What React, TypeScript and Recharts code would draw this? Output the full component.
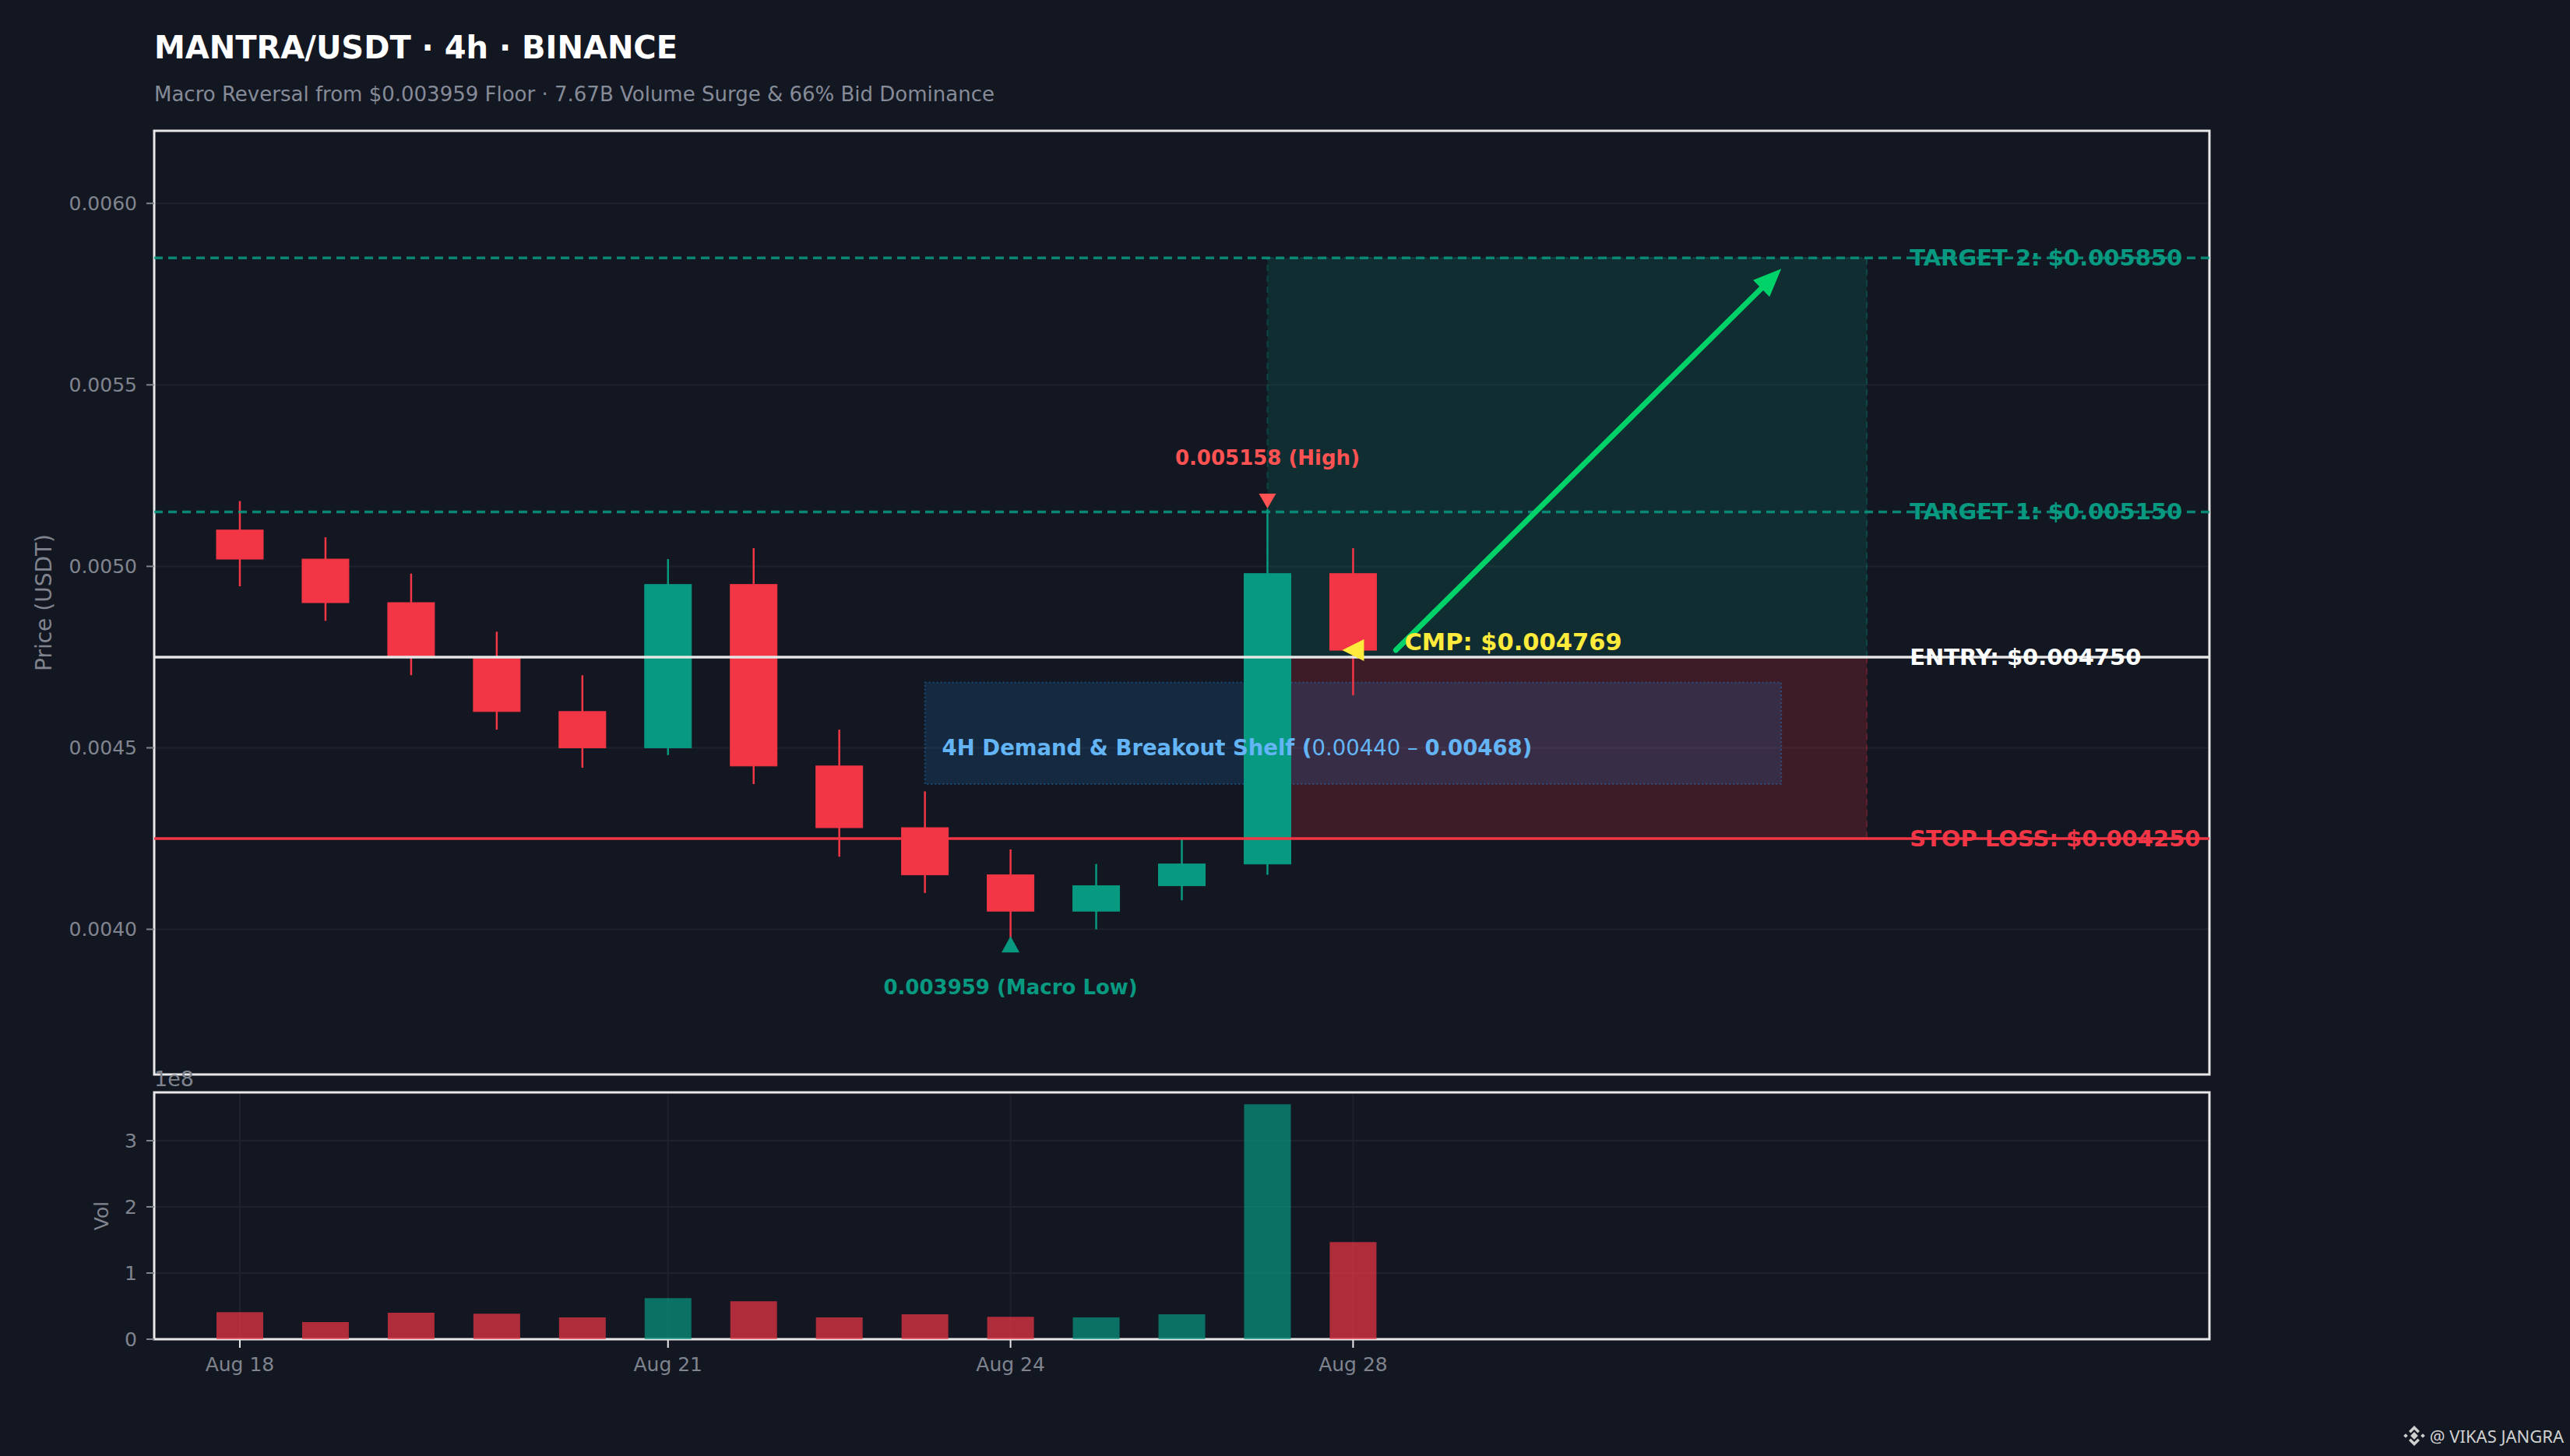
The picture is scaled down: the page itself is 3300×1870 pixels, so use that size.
import React from 'react';
import {
  ComposedChart,
  Bar,
  Cell,
  XAxis,
  YAxis,
  CartesianGrid,
  ReferenceLine,
  ReferenceArea,
  ReferenceDot,
  Label,
} from 'recharts';

// 4h candles, x = candle index
const candleIdx = [0, 1, 2, 3, 4, 5, 6, 7, 8, 9, 10, 11, 12, 13];
const opens = [0.0051, 0.00502, 0.0049, 0.00475, 0.0046, 0.0045, 0.00495, 0.00445, 0.00428, 0.00415, 0.00405, 0.00412, 0.00418, 0.00498];
const closes = [0.00502, 0.0049, 0.00475, 0.0046, 0.0045, 0.00495, 0.00445, 0.00428, 0.00415, 0.00405, 0.00412, 0.00418, 0.00498, 0.004769];
const highs = [0.00518, 0.00508, 0.00498, 0.00482, 0.0047, 0.00502, 0.00505, 0.00455, 0.00438, 0.00422, 0.00418, 0.00425, 0.005158, 0.00505];
const lows = [0.004945, 0.00485, 0.0047, 0.00455, 0.004445, 0.00448, 0.0044, 0.0042, 0.0041, 0.003959, 0.004, 0.00408, 0.00415, 0.004645];
const volumes = [0.41e8, 0.26e8, 0.4e8, 0.385e8, 0.33e8, 0.62e8, 0.575e8, 0.33e8, 0.377e8, 0.338e8, 0.33e8, 0.377e8, 3.55e8, 1.467e8];

const dateTicks = [0, 5, 9, 13];
const dateLabels = ['Aug 18', 'Aug 21', 'Aug 24', 'Aug 28'];
const priceTicks = [0.004, 0.0045, 0.005, 0.0055, 0.006];
const volTicks = [0, 1e8, 2e8, 3e8];

const TARGET2 = 0.00585;
const TARGET1 = 0.00515;
const ENTRY = 0.00475;
const STOP = 0.00425;
const CMP = 0.004769;
const HIGH = 0.005158;
const LOW = 0.003959;
const demandZone = [0.0044, 0.00468];

const BG = '#131722';
const UP = '#089981';
const DOWN = '#f23645';
const GRID = '#1e222d';
const TXT = '#80848f';
const SPINE = '#e8e8e8';
const FONT = "'DejaVu Sans', sans-serif";

const candles = candleIdx.map((t, i) => ({
  t,
  open: opens[i],
  close: closes[i],
  high: highs[i],
  low: lows[i],
  body: [Math.min(opens[i], closes[i]), Math.max(opens[i], closes[i])],
  vol: volumes[i],
  up: closes[i] >= opens[i],
}));

const Candle = (props: any) => {
  const { x, y, width, height, payload } = props;
  const [lo, hi] = payload.body;
  const k = height / (hi - lo);
  const cx = x + width / 2;
  const yHigh = y - (payload.high - hi) * k;
  const yLow = y + height + (lo - payload.low) * k;
  const col = payload.up ? UP : DOWN;
  return (
    <g>
      <line x1={cx} x2={cx} y1={yHigh} y2={yLow} stroke={col} strokeWidth={2.5} />
      <rect x={x} y={y} width={width} height={height} fill={col} stroke={col} strokeWidth={1} />
    </g>
  );
};

const Arrow = (p: any) => {
  const { x1, y1, x2, y2 } = p;
  const a = Math.atan2(y2 - y1, x2 - x1);
  const len = 36;
  const half = 15;
  const bx = x2 - len * Math.cos(a);
  const by = y2 - len * Math.sin(a);
  const nx = -Math.sin(a);
  const ny = Math.cos(a);
  return (
    <g>
      <line x1={x1} y1={y1} x2={bx + 6 * Math.cos(a)} y2={by + 6 * Math.sin(a)} stroke="#00d26a" strokeWidth={7} strokeLinecap="round" />
      <polygon points={`${x2},${y2} ${bx + half * nx},${by + half * ny} ${bx - half * nx},${by - half * ny}`} fill="#00d26a" />
    </g>
  );
};

const tri = (dir: 'up' | 'down' | 'left', color: string, w: number, h: number) => (p: any) => {
  const { cx, cy } = p;
  let pts = '';
  if (dir === 'up') pts = `${cx},${cy - h / 2} ${cx - w / 2},${cy + h / 2} ${cx + w / 2},${cy + h / 2}`;
  if (dir === 'down') pts = `${cx},${cy + h / 2} ${cx - w / 2},${cy - h / 2} ${cx + w / 2},${cy - h / 2}`;
  if (dir === 'left') pts = `${cx - w / 2},${cy} ${cx + w / 2},${cy - h / 2} ${cx + w / 2},${cy + h / 2}`;
  return <polygon points={pts} fill={color} />;
};

const textAt = (txt: string, color: string, size: number, anchor: 'start' | 'middle', baseline: string = 'central') => (p: any) => (
  <text x={p.cx} y={p.cy} fill={color} fontSize={size} fontWeight="bold" fontFamily={FONT} textAnchor={anchor} dominantBaseline={baseline}>
    {txt}
  </text>
);

const demandText = (p: any) => (
  <text x={p.cx} y={p.cy} fill="#64b5f6" fontSize={27.5} fontFamily={FONT} dominantBaseline="central">
    <tspan fontWeight="bold">4H Demand &amp; Breakout Shelf (</tspan>
    <tspan>0.00440 – </tspan>
    <tspan fontWeight="bold">0.00468)</tspan>
  </text>
);

const priceLabel = (props: any) => {
  const vb = props.viewBox;
  const cx = vb.x + 56;
  const cy = vb.y + vb.height / 2;
  return (
    <text x={cx} y={cy} transform={`rotate(-90 ${cx} ${cy})`} textAnchor="middle" dominantBaseline="central" fill={TXT} fontSize={28} fontFamily={FONT}>
      Price (USDT)
    </text>
  );
};

const volLabel = (props: any) => {
  const vb = props.viewBox;
  const cx = vb.x + 130;
  const cy = vb.y + vb.height / 2;
  return (
    <g>
      <text x={cx} y={cy} transform={`rotate(-90 ${cx} ${cy})`} textAnchor="middle" dominantBaseline="central" fill={TXT} fontSize={25} fontFamily={FONT}>
        Vol
      </text>
      <text x={vb.x + vb.width} y={vb.y - 8} fill={TXT} fontSize={27} fontFamily={FONT}>
        1e8
      </text>
    </g>
  );
};

const tickStyle = { fill: TXT, fontSize: 25, fontFamily: FONT };

export default function App() {
  return (
    <div style={{ position: 'absolute', left: 0, top: 0, width: 3300, height: 1870, background: BG, overflow: 'hidden', fontFamily: FONT }}>
      <div style={{ position: 'absolute', left: 198, top: 41, fontSize: 40, lineHeight: '40px', fontWeight: 'bold', color: '#ffffff' }}>
        MANTRA/USDT · 4h · BINANCE
      </div>
      <div style={{ position: 'absolute', left: 198, top: 108, fontSize: 26, lineHeight: '26px', color: '#868b98' }}>
        Macro Reversal from $0.003959 Floor · 7.67B Volume Surge &amp; 66% Bid Dominance
      </div>

      <div style={{ position: 'absolute', left: 0, top: 0 }}>
        <ComposedChart width={3300} height={1400} data={candles} margin={{ top: 168, right: 463, bottom: 20, left: 0 }}>
          <CartesianGrid stroke={GRID} strokeWidth={2} />
          <XAxis dataKey="t" type="number" domain={[-1, 23]} ticks={dateTicks} allowDataOverflow tick={false} tickLine={false} axisLine={false} height={0} />
          <YAxis
            type="number"
            domain={[0.0036, 0.0062]}
            allowDataOverflow
            ticks={priceTicks}
            width={198}
            tickFormatter={(v: number) => v.toFixed(4)}
            tick={tickStyle}
            tickLine={{ stroke: TXT, strokeWidth: 2 }}
            tickSize={10}
            tickMargin={12}
            axisLine={false}
            label={<Label content={priceLabel} />}
          />
          <ReferenceArea x1={12} x2={19} y1={ENTRY} y2={TARGET2} fill={UP} fillOpacity={0.17} stroke={UP} strokeOpacity={0.3} strokeDasharray="8 6" strokeWidth={2} />
          <ReferenceArea x1={12} x2={19} y1={STOP} y2={ENTRY} fill={DOWN} fillOpacity={0.19} stroke={DOWN} strokeOpacity={0.25} strokeDasharray="8 6" strokeWidth={2} />
          <ReferenceArea x1={8} x2={18} y1={demandZone[0]} y2={demandZone[1]} fill="#2196f3" fillOpacity={0.15} stroke="#2196f3" strokeOpacity={0.35} strokeDasharray="2 3" strokeWidth={2} />
          <Bar dataKey="body" barSize={60} shape={Candle} isAnimationActive={false} />
          <ReferenceLine y={TARGET2} stroke={UP} strokeOpacity={0.85} strokeWidth={3.5} strokeDasharray="11 7" />
          <ReferenceLine y={TARGET1} stroke={UP} strokeOpacity={0.85} strokeWidth={3.5} strokeDasharray="11 7" />
          <ReferenceLine y={ENTRY} stroke="#e6e6e6" strokeWidth={3.5} />
          <ReferenceLine y={STOP} stroke={DOWN} strokeWidth={3.5} />
          <ReferenceLine segment={[{ x: 13.5, y: CMP }, { x: 18, y: 0.00582 }]} shape={Arrow} />
          <ReferenceDot x={12} y={0.00518} shape={tri('down', '#ff5252', 22, 19)} />
          <ReferenceDot x={9} y={LOW} shape={tri('up', UP, 23, 21)} />
          <ReferenceDot x={13} y={CMP} shape={tri('left', '#ffeb3b', 28, 28)} />
          <ReferenceDot x={12} y={0.0053} shape={textAt(`${HIGH} (High)`, '#ff5252', 26, 'middle')} />
          <ReferenceDot x={9} y={0.00384} shape={textAt(`${LOW} (Macro Low)`, UP, 26, 'middle')} />
          <ReferenceDot x={13.6} y={CMP} shape={textAt(`CMP: $${CMP}`, '#ffeb3b', 30.5, 'start', 'auto')} />
          <ReferenceDot x={8.2} y={0.0045} shape={demandText} />
          <ReferenceDot x={19.5} y={TARGET2} shape={textAt('TARGET 2: $0.005850', UP, 29, 'start')} />
          <ReferenceDot x={19.5} y={TARGET1} shape={textAt('TARGET 1: $0.005150', UP, 29, 'start')} />
          <ReferenceDot x={19.5} y={ENTRY} shape={textAt('ENTRY: $0.004750', '#ffffff', 29, 'start')} />
          <ReferenceDot x={19.5} y={STOP} shape={textAt('STOP LOSS: $0.004250', DOWN, 29, 'start')} />
          <ReferenceArea x1={-1} x2={23} y1={0.0036} y2={0.0062} fill="none" stroke={SPINE} strokeWidth={3} />
        </ComposedChart>
      </div>

      <div style={{ position: 'absolute', left: 0, top: 1340 }}>
        <ComposedChart width={3300} height={530} data={candles} margin={{ top: 63, right: 463, bottom: 90, left: 0 }}>
          <CartesianGrid stroke={GRID} strokeWidth={2} />
          <XAxis
            dataKey="t"
            type="number"
            domain={[-1, 23]}
            ticks={dateTicks}
            allowDataOverflow
            height={60}
            tickFormatter={(v: number) => dateLabels[dateTicks.indexOf(v)]}
            tick={tickStyle}
            tickLine={{ stroke: SPINE, strokeWidth: 2 }}
            tickSize={11}
            tickMargin={12}
            axisLine={false}
          />
          <YAxis
            type="number"
            domain={[0, 3.73e8]}
            allowDataOverflow
            ticks={volTicks}
            width={198}
            tickFormatter={(v: number) => String(v / 1e8)}
            tick={tickStyle}
            tickLine={{ stroke: TXT, strokeWidth: 2 }}
            tickSize={10}
            tickMargin={12}
            axisLine={false}
            label={<Label content={volLabel} />}
          />
          <Bar dataKey="vol" barSize={60} isAnimationActive={false}>
            {candles.map((c, i) => (
              <Cell key={`vol-${i}`} fill={c.up ? UP : DOWN} fillOpacity={0.7} />
            ))}
          </Bar>
          <ReferenceArea x1={-1} x2={23} y1={0} y2={3.73e8} fill="none" stroke={SPINE} strokeWidth={3} />
        </ComposedChart>
      </div>

      <div style={{ position: 'absolute', right: 8, top: 1830, height: 28, display: 'flex', alignItems: 'center', color: '#d0d0d0', fontFamily: "'Noto Sans', sans-serif", fontSize: 22 }}>
        <svg width={28} height={28} viewBox="0 0 28 28" style={{ marginRight: 6 }}>
          <g fill="#d0d0d0">
            <rect x={10.5} y={10.5} width={7} height={7} transform="rotate(45 14 14)" />
            <rect x={1} y={12} width={4} height={4} transform="rotate(45 3 14)" />
            <rect x={23} y={12} width={4} height={4} transform="rotate(45 25 14)" />
            <polygon points="14,1 21,8 18.5,10.5 14,6 9.5,10.5 7,8" />
            <polygon points="14,27 21,20 18.5,17.5 14,22 9.5,17.5 7,20" />
          </g>
        </svg>
        <span>@ VIKAS JANGRA</span>
      </div>
    </div>
  );
}
